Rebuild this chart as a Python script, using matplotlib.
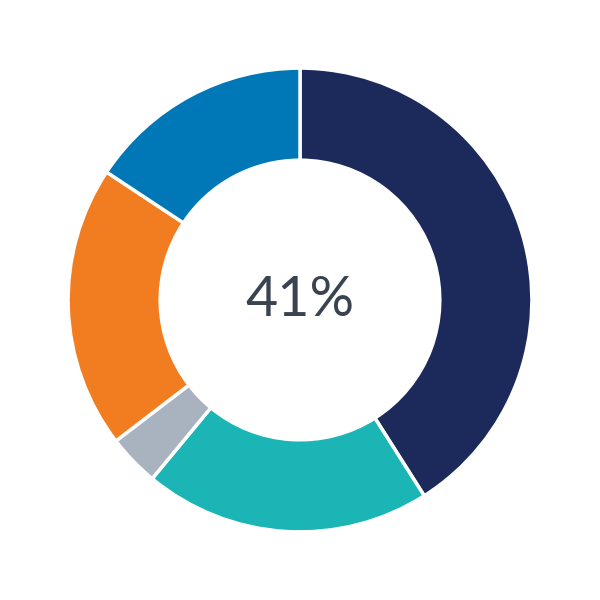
import matplotlib
matplotlib.use("Agg")
import matplotlib.pyplot as plt

# slice shares, clockwise from 12 o'clock
labels = ["Navy", "Teal", "Grey", "Orange", "Blue"]
shares = [41, 20, 3.6, 19.7, 15.7]
colors = ["#1B2A5B", "#1CB5B5", "#A9B3BF", "#F27D20", "#0077B6"]
center_text = "41%"

fig = plt.figure(figsize=(6, 6), dpi=100)
ax = fig.add_axes([0, 0, 1, 1])

ax.pie(shares, colors=colors, startangle=90, counterclock=False,
       radius=0.773,
       wedgeprops=dict(width=0.307, edgecolor="white", linewidth=2.5))
ax.set_xlim(-1, 1)
ax.set_ylim(-1, 1)
ax.set_aspect("equal")
ax.axis("off")

ax.text(0, 0, center_text, ha="center", va="center", fontsize=40,
        family="Lato", color="#3A4350")

fig.savefig("out.png", dpi=100)
